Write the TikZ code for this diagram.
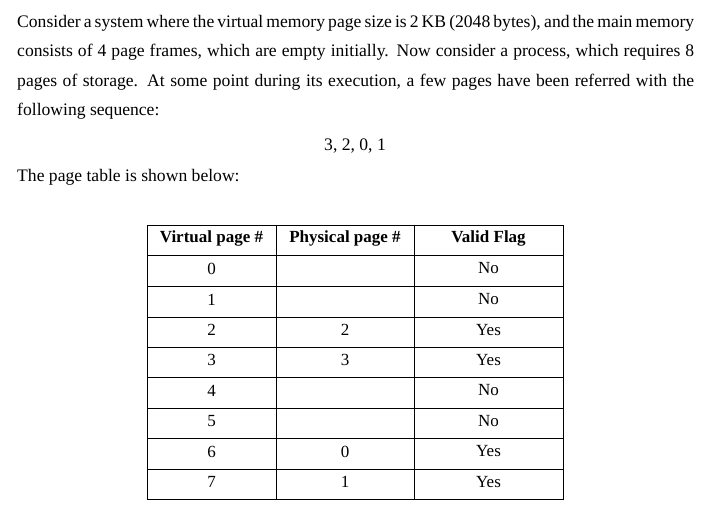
\documentclass[tikz,border=0pt]{standalone}
\usepackage{fontspec}
\setmainfont{Liberation Serif}
\usetikzlibrary{positioning}

\tikzset{
  body/.style={inner sep=0pt, font=\fontsize{17.6}{29.5}\selectfont},
  cell/.style={inner sep=0pt, font=\fontsize{17}{19}\selectfont},
  head/.style={cell, font=\fontsize{17}{19}\selectfont\bfseries},
}

\begin{document}
\begin{tikzpicture}[x=1pt, y=-1pt]
  \useasboundingbox (0,0) rectangle (728,514);
  % text above the table
  \node[body, anchor=north west, text width=677pt, align=justify] (intro) at (17,15)
    {Consider a system where the virtual memory page size is 2 KB (2048 bytes), and the main memory consists of 4 page frames, which are empty initially. Now consider a process, which requires 8 pages of storage. At some point during its execution, a few pages have been referred with the following sequence:};
  \node[body] (seq) at (355,146) {3, 2, 0, 1};
  \node[body, anchor=west] (caption) at (17,177) {The page table is shown below:};

  % table grid
  \draw[line width=1pt] (147,225) rectangle (563,499);
  \foreach \x in {276,414}
    \draw[line width=1pt] (\x,225) -- (\x,499);
  \foreach \y in {255,286,317,347,377,408,438,469}
    \draw[line width=1pt] (147,\y) -- (563,\y);

  \node[head] (h1) at (211.5,238) {Virtual page \#};
  \node[head] (h2) at (345,238) {Physical page \#};
  \node[head] (h3) at (488.5,238) {Valid Flag};

  \foreach \v/\p/\f/\y in {0//No/268.5, 1//No/299.5, 2/2/Yes/330, 3/3/Yes/360,
                           4//No/390.5, 5//No/421, 6/0/Yes/451.5, 7/1/Yes/482} {
    \node[cell] (v\v) at (211.5,\y) {\v};
    \node[cell] (p\v) at (345,\y) {\p};
    \node[cell] (f\v) at (488.5,\y) {\f};
  }
\end{tikzpicture}
\end{document}
